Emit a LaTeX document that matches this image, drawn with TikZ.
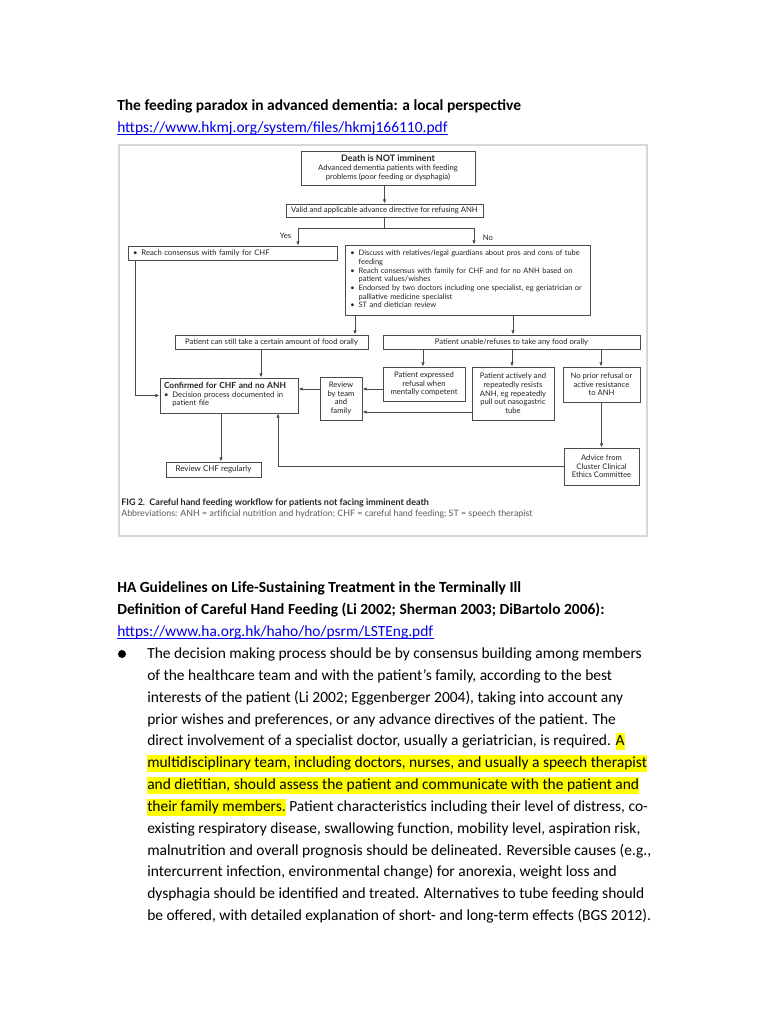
\documentclass[tikz,border=0pt]{standalone}
\usepackage{fontspec}
\setmainfont{Carlito}
\newfontfamily\figfont{Lato}
\usetikzlibrary{arrows.meta}
\definecolor{linkblue}{RGB}{0,0,235}
\definecolor{hly}{RGB}{255,255,0}
\definecolor{figline}{RGB}{75,75,75}
\definecolor{figtext}{RGB}{35,35,35}
\definecolor{capgray}{RGB}{90,90,90}
\definecolor{framegray}{RGB}{215,215,215}
\newcommand\bodyfont{\fontsize{11.6}{13.5}\selectfont}
\newcommand\headfont{\fontsize{11.6}{13.5}\selectfont\bfseries}
\newcommand\figsmall{\figfont\fontsize{5.75}{6.5}\selectfont}
\newcommand\fignarrow{\figfont\fontsize{5.6}{6.5}\selectfont}
\newcommand\figbig{\figfont\fontsize{6}{6.5}\selectfont}
\newcommand\figbf[1]{{\fontsize{6.3}{6.5}\selectfont\bfseries #1}}
\newcommand\figbfl[1]{{\fontsize{6.7}{6.5}\selectfont\bfseries #1}}
\newcommand\hlt[1]{{\fboxsep=0pt\colorbox{hly}{\rule[-3.4pt]{0pt}{12.75pt}#1}}}
\begin{document}
\begin{tikzpicture}[x=0.75pt,y=-0.75pt,
  figbox/.style={draw=figline, line width=0.6pt, fill=white, text=figtext, font=\figsmall, align=center, inner sep=0.8pt},
  arr/.style={draw=figline, line width=0.6pt, -{Latex[length=3.2pt,width=2.6pt]}},
  ln/.style={draw=figline, line width=0.6pt},
  lbl/.style={text=figtext, font=\figsmall, inner sep=0pt},
  body/.style={anchor=base west, inner sep=0pt, font=\bodyfont, text=black},
  head/.style={anchor=base west, inner sep=0pt, font=\headfont, text=black},
  link/.style={anchor=base west, inner sep=0pt, font=\bodyfont, text=linkblue},
  uline/.style={draw=linkblue, line width=0.7pt}]
\useasboundingbox (0,0) rectangle (768,1024);
\fill[white] (0,0) rectangle (768,1024);

% ---------- top heading ----------
\node[head] (h1) at (117,110.5) {The feeding paradox in advanced dementia: a local perspective};
\node[link] (url1) at (117,132.5) {https://www.hkmj.org/system/files/hkmj166110.pdf};
\draw[uline] ([yshift=-1.5pt]url1.base west) -- ([yshift=-1.5pt]url1.base east);

% ---------- figure frame ----------
\draw[framegray, line width=0.8pt] (119,145) rectangle (647,536);

% ---------- flowchart ----------
\node[figbox, minimum width=130.5pt, minimum height=25.5pt] (death) at (388,168)
  {\figbfl{Death is NOT imminent}\\Advanced dementia patients with feeding\\problems (poor feeding or dysphagia)};
\node[figbox, minimum width=147.75pt, minimum height=9.75pt] (valid) at (384.5,210.5)
  {Valid and applicable advance directive for refusing ANH};
\node[figbox, minimum width=156.75pt, minimum height=10.5pt, align=left, text width=149.25pt, inner xsep=3.75pt] (yes) at (232.5,253)
  {\textbullet\hspace{3pt}Reach consensus with family for CHF};
\node[figbox, font=\fignarrow, minimum width=183.75pt, minimum height=52.5pt, align=left, text width=175.75pt, inner xsep=4pt] (nobox) at (467.5,280)
  {\begin{tabular}{@{}l@{\hspace{3pt}}l@{}}
   \textbullet & Discuss with relatives/legal guardians about pros and cons of tube\\
    & feeding\\
   \textbullet & Reach consensus with family for CHF and for no ANH based on\\
    & patient values/wishes\\
   \textbullet & Endorsed by two doctors including one specialist, eg geriatrician or\\
    & palliative medicine specialist\\
   \textbullet & ST and dietician review
   \end{tabular}};
\node[figbox, minimum width=144.75pt, minimum height=10.5pt] (still) at (271.5,342)
  {Patient can still take a certain amount of food orally};
\node[figbox, minimum width=192.75pt, minimum height=10.5pt] (unable) at (511.5,342)
  {Patient unable/refuses to take any food orally};
\node[figbox, minimum width=61.5pt, minimum height=25.5pt] (expressed) at (424,384)
  {Patient expressed\\refusal when\\mentally competent};
\node[figbox, minimum width=61.5pt, minimum height=39.75pt] (actively) at (513,393.5)
  {Patient actively and\\repeatedly resists\\ANH, eg repeatedly\\pull out nasogastric\\tube};
\node[figbox, minimum width=57.75pt, minimum height=26.25pt] (noprior) at (601.5,384.5)
  {No prior refusal or\\active resistance\\to ANH};
\node[figbox, minimum width=56.25pt, minimum height=27.75pt] (advice) at (601.5,466.5)
  {Advice from\\Cluster Clinical\\Ethics Committee};
\node[figbox, minimum width=31.5pt, minimum height=32.25pt] (review) at (341,398.5)
  {Review\\by team\\and\\family};
\node[figbox, minimum width=103.5pt, minimum height=26.25pt, align=left, text width=97.5pt, inner xsep=3pt] (confirmed) at (229,395.5)
  {\begin{tabular}{@{}l@{\hspace{3pt}}l@{}}
   \multicolumn{2}{@{}l@{}}{\figbf{Confirmed for CHF and no ANH}}\\
   \textbullet & Decision process documented in\\
    & patient file
   \end{tabular}};
\node[figbox, font=\figbig, minimum width=71.25pt, minimum height=11.25pt] (regular) at (213.5,469.5)
  {Review CHF regularly};

\coordinate (yesT) at (298,228);
\coordinate (noT) at (474,228);
\draw[arr] (death.south -| valid.north) -- (valid.north);
\draw[ln] (valid.south) -- (valid.south |- yesT);
\draw[ln] (yesT) -- (noT);
\draw[arr] (yesT) -- (yesT |- yes.north);
\draw[arr] (noT) -- (noT |- nobox.north);
\node[lbl] (yeslbl) at (285.5,235.5) {Yes};
\node[lbl] (nolbl) at (488,238) {No};
\draw[arr] (nobox.south -| 355,0) -- (still.north -| 355,0);
\draw[arr] (nobox.south -| 513,0) -- (unable.north -| 513,0);
\draw[arr] (unable.south -| 423,0) -- (expressed.north -| 423,0);
\draw[arr] (unable.south -| 512,0) -- (actively.north -| 512,0);
\draw[arr] (unable.south -| 601,0) -- (noprior.north -| 601,0);
\draw[arr] (noprior.south) -- (advice.north);
\draw[arr] (yes.south -| 135,0) |- (confirmed.west);
\draw[arr] (still.south -| 261,0) -- (confirmed.north -| 261,0);
\draw[arr] (review.west |- 0,389) -- (confirmed.east |- 0,389);
\draw[arr] (expressed.west |- 0,389) -- (review.east |- 0,389);
\draw[arr] (actively.west |- 0,412) -- (review.east |- 0,412);
\draw[arr] (advice.west) -| (confirmed.south -| 278,0);
\draw[arr] (confirmed.south -| 221,0) -- (regular.north -| 221,0);

% ---------- caption ----------
\node[anchor=base west, inner sep=0pt, text=figtext, font={\figfont\fontsize{6.75}{7}\selectfont\bfseries}] (cap1) at (121,505)
  {FIG 2.\ \ Careful hand feeding workflow for patients not facing imminent death};
\node[anchor=base west, inner sep=0pt, text=capgray, font={\figfont\fontsize{6.65}{7}\selectfont}] (cap2) at (121,516)
  {Abbreviations: ANH = artificial nutrition and hydration; CHF = careful hand feeding; ST = speech therapist};

% ---------- second section ----------
\node[head] (h2) at (117,592.5) {HA Guidelines on Life-Sustaining Treatment in the Terminally Ill};
\node[head] (h3) at (117,614.5) {Definition of Careful Hand Feeding (Li 2002; Sherman 2003; DiBartolo 2006):};
\node[link] (url2) at (117,636.5) {https://www.ha.org.hk/haho/ho/psrm/LSTEng.pdf};
\draw[uline] ([yshift=-1.5pt]url2.base west) -- ([yshift=-1.5pt]url2.base east);

\node[circle, fill=black, inner sep=0pt, minimum size=6pt] (dot) at (122,654) {};
\node[body] (l1) at (147,658.5) {The decision making process should be by consensus building among members};
\node[body] (l2) at (147,680.3) {of the healthcare team and with the patient’s family, according to the best};
\node[body] (l3) at (147,702.2) {interests of the patient (Li 2002; Eggenberger 2004), taking into account any};
\node[body] (l4) at (147,724) {prior wishes and preferences, or any advance directives of the patient. The};
\node[body] (l5) at (147,745.8) {direct involvement of a specialist doctor, usually a geriatrician, is required. \hlt{A}};
\node[body] (l6) at (147,767.7) {\hlt{multidisciplinary team, including doctors, nurses, and usually a speech therapist}};
\node[body] (l7) at (147,789.5) {\hlt{and dietitian, should assess the patient and communicate with the patient and}};
\node[body] (l8) at (147,811.3) {\hlt{their family members.} Patient characteristics including their level of distress, co-};
\node[body] (l9) at (147,833.1) {existing respiratory disease, swallowing function, mobility level, aspiration risk,};
\node[body] (l10) at (147,855) {malnutrition and overall prognosis should be delineated. Reversible causes (e.g.,};
\node[body] (l11) at (147,876.8) {intercurrent infection, environmental change) for anorexia, weight loss and};
\node[body] (l12) at (147,898.6) {dysphagia should be identified and treated. Alternatives to tube feeding should};
\node[body] (l13) at (147,920.5) {be offered, with detailed explanation of short- and long-term effects (BGS 2012).};
\end{tikzpicture}
\end{document}
